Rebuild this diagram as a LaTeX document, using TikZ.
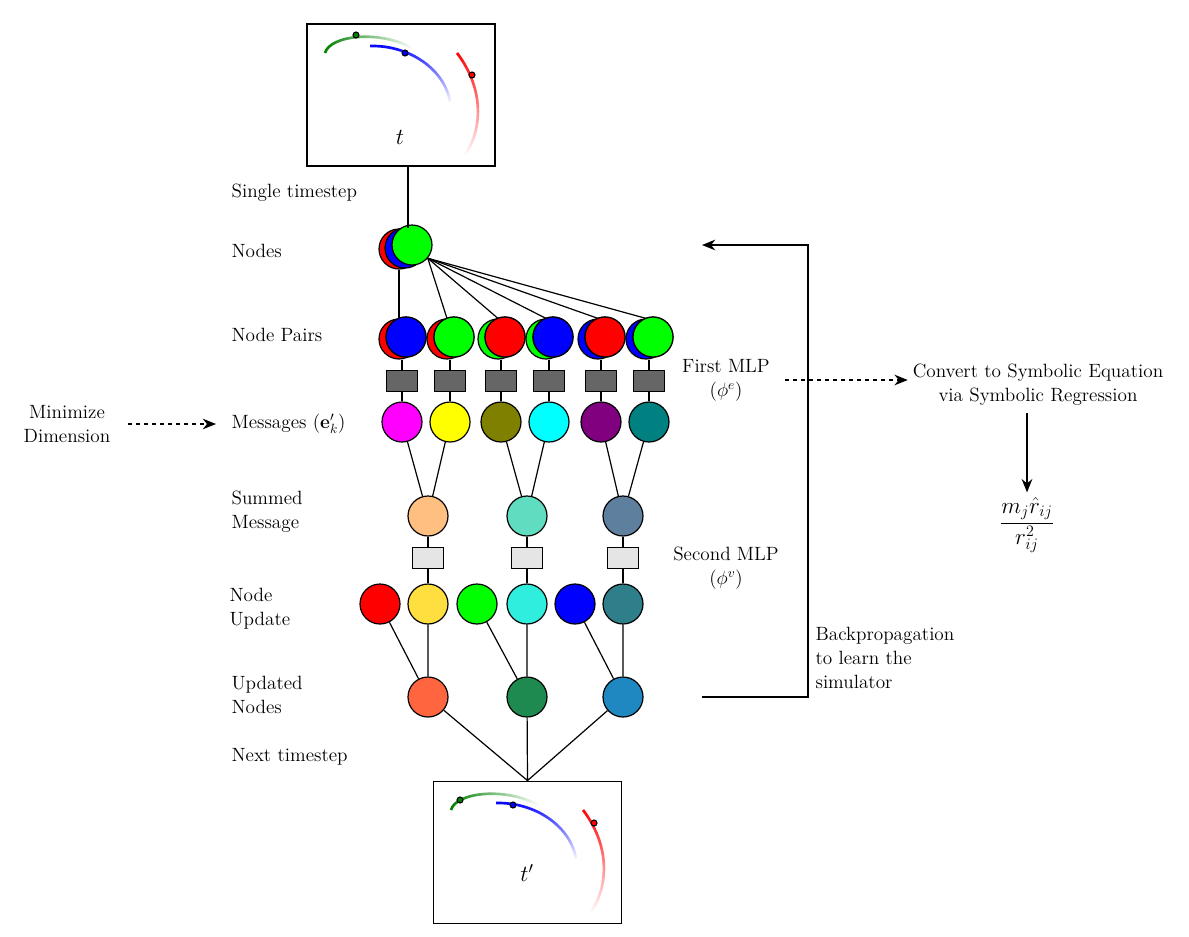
\documentclass[tikz,border=0pt]{standalone}
\usetikzlibrary{fadings,arrows.meta}
\begin{document}
\begin{tikzpicture}[x=0.75pt,y=-0.75pt,line width=0.9pt,
  c/.style={circle,draw,line width=0.9pt,minimum size=30pt,inner sep=0pt},
  mlp/.style={draw,line width=0.9pt,minimum width=23pt,minimum height=16pt,inner sep=0pt},
  lab/.style={anchor=west,align=left,font=\Large,inner sep=0pt},
  txt/.style={align=center,font=\Large},
  dar/.style={dashed,-{Stealth[length=10pt,width=8pt]}},
  sar/.style={-{Stealth[length=10pt,width=8pt]}},
  traj/.style={line width=2pt},
  dot/.style={circle,draw=black,line width=0.8pt,inner sep=0pt,minimum size=4.5pt}]
\useasboundingbox (0,0) rectangle (1189,936);
\definecolor{so}{HTML}{FFBF80}\definecolor{sa}{HTML}{60DDC0}\definecolor{ss}{HTML}{5F7F9F}
\definecolor{uy}{HTML}{FFDF40}\definecolor{ut}{HTML}{30EEDD}\definecolor{utl}{HTML}{2F7F8A}
\definecolor{n1}{HTML}{FF6640}\definecolor{n2}{HTML}{1F8A50}\definecolor{n3}{HTML}{1F88C0}
\definecolor{mmag}{HTML}{FF00FF}\definecolor{myel}{HTML}{FFFF00}\definecolor{moli}{HTML}{808000}
\definecolor{mcya}{HTML}{00FFFF}\definecolor{mpur}{HTML}{800080}\definecolor{mtea}{HTML}{008080}
% top box
\node[draw,minimum width=141pt,minimum height=106.5pt,inner sep=0pt] (top) at (401,95) {};
\node[font=\LARGE] at (400,137) {$t$};
\draw[traj,green!50!black,path fading=east] (325,53) .. controls (330,35) and (380,30) .. (412,48);
\draw[traj,blue,path fading=south] (370,46) .. controls (410,45) and (445,70) .. (450,102);
\draw[traj,red,path fading=south] (457,53) .. controls (485,90) and (482,130) .. (465,155);
\node[dot,fill=green!50!black] at (356,35) {};
\node[dot,fill=blue] at (405,53) {};
\node[dot,fill=red] at (472,75) {};
% bottom box
\node[draw,minimum width=141pt,minimum height=107pt,inner sep=0pt] (bot) at (527.5,852.5) {};
\node[font=\LARGE] at (527,873) {$t'$};
\begin{scope}[shift={(126,757)}]
\draw[traj,green!50!black,path fading=east] (325,53) .. controls (330,35) and (380,30) .. (412,48);
\draw[traj,blue,path fading=south] (370,46) .. controls (410,45) and (445,70) .. (450,102);
\draw[traj,red,path fading=south] (457,53) .. controls (485,90) and (482,130) .. (465,155);
\end{scope}
\node[dot,fill=green!50!black] at (460,800) {};
\node[dot,fill=blue] at (513,805) {};
\node[dot,fill=red] at (594,823) {};
% nodes cluster
\coordinate (tb) at (408,166);
\node[c,fill=red] (nr) at (399,249) {};
\node[c,fill=blue] (nb) at (405,248) {};
\node[c,fill=green] (ng) at (412,245) {};
\draw (tb) -- (408,228);
% pairs
\foreach \i/\x/\a/\b in {1/402/red/blue,2/450/red/green,3/501/green/red,4/549/green/blue,5/601/blue/red,6/649/blue/green}{
  \node[c,fill=\a] (pa\i) at (\x-3,339) {};
  \node[c,fill=\b] (pb\i) at (\x+4,337) {};
}
\draw (nr.south) -- (pa1.north);
\foreach \i in {2,...,6}{ \draw (ng.-40) -- (pa\i.north); }
\foreach \i/\x/\b in {1/402/blue,2/450/green,3/501/red,4/549/blue,5/601/red,6/649/green}{\node[c,fill=\b] at (\x+4,337) {};}
% mlp + messages
\foreach \i/\x/\col in {1/402/mmag,2/450/myel,3/501/moli,4/549/mcya,5/601/mpur,6/649/mtea}{
  \node[mlp,fill=black!60] (m\i) at (\x,381) {};
  \node[c,fill=\col] (e\i) at (\x,422) {};
  \draw (pa\i.south -| m\i) -- (m\i);
  \draw (m\i) -- (e\i);
}
% summed
\node[c,fill=so] (s1) at (428,516) {};
\node[c,fill=sa] (s2) at (527,516) {};
\node[c,fill=ss] (s3) at (623,516) {};
\draw (e1) -- (s1) (e2) -- (s1) (e3) -- (s2) (e4) -- (s2) (e5) -- (s3) (e6) -- (s3);
\foreach \i/\x in {1/428,2/527,3/623}{\node[mlp,fill=black!10] (q\i) at (\x,558) {};\draw (s\i) -- (q\i);}
% node update
\node[c,fill=red] (u1) at (380,604) {};
\node[c,fill=uy] (u2) at (428,604) {};
\node[c,fill=green] (u3) at (477,604) {};
\node[c,fill=ut] (u4) at (527,604) {};
\node[c,fill=blue] (u5) at (575,604) {};
\node[c,fill=utl] (u6) at (623,604) {};
\draw (q1) -- (u2) (q2) -- (u4) (q3) -- (u6);
\node[c,fill=n1] (d1) at (428,697) {};
\node[c,fill=n2] (d2) at (527,697) {};
\node[c,fill=n3] (d3) at (623,697) {};
\draw (u1) -- (d1) (u2) -- (d1) (u3) -- (d2) (u4) -- (d2) (u5) -- (d3) (u6) -- (d3);
\draw (d1) -- (bot.north) (d2) -- (bot.north) (d3) -- (bot.north);
% labels
\node[lab] at (231,193) {Single timestep};
\node[lab] at (231,251) {Nodes};
\node[lab] at (231,335) {Node Pairs};
\node[lab] at (231,424) {Messages ($\mathbf{e}'_k$)};
\node[lab] at (231,512) {Summed\\Message};
\node[lab] at (229,609) {Node\\Update};
\node[lab] at (231,695) {Updated\\Nodes};
\node[lab] at (231,757) {Next timestep};
\node[txt,inner sep=0pt] (md) at (67,424) {Minimize\\Dimension};
\coordinate (ms) at (216,424);
\draw[dar] (128,424) -- (ms);
\node[txt] (f1) at (726,380) {First MLP\\$(\phi^e)$};
\node[txt] (f2) at (726,568) {Second MLP\\$(\phi^v)$};
\node[txt] (cv) at (1038,385) {Convert to Symbolic Equation\\via Symbolic Regression};
\draw[dar] (785,380) -- (cv.west |- 0,380);
\node[font=\LARGE] (eq) at (1027,525) {$\displaystyle\frac{m_j\hat{r}_{ij}}{r_{ij}^2}$};
\draw[sar] (1027,413) -- (eq.north);
\coordinate (bs) at (702,697);
\coordinate (be) at (702,245);
\draw[sar] (bs) -- (808,697) -- (808,245) -- (be);
\node[lab,anchor=west] at (815,658) {Backpropagation\\to learn the\\simulator};
\end{tikzpicture}
\end{document}
